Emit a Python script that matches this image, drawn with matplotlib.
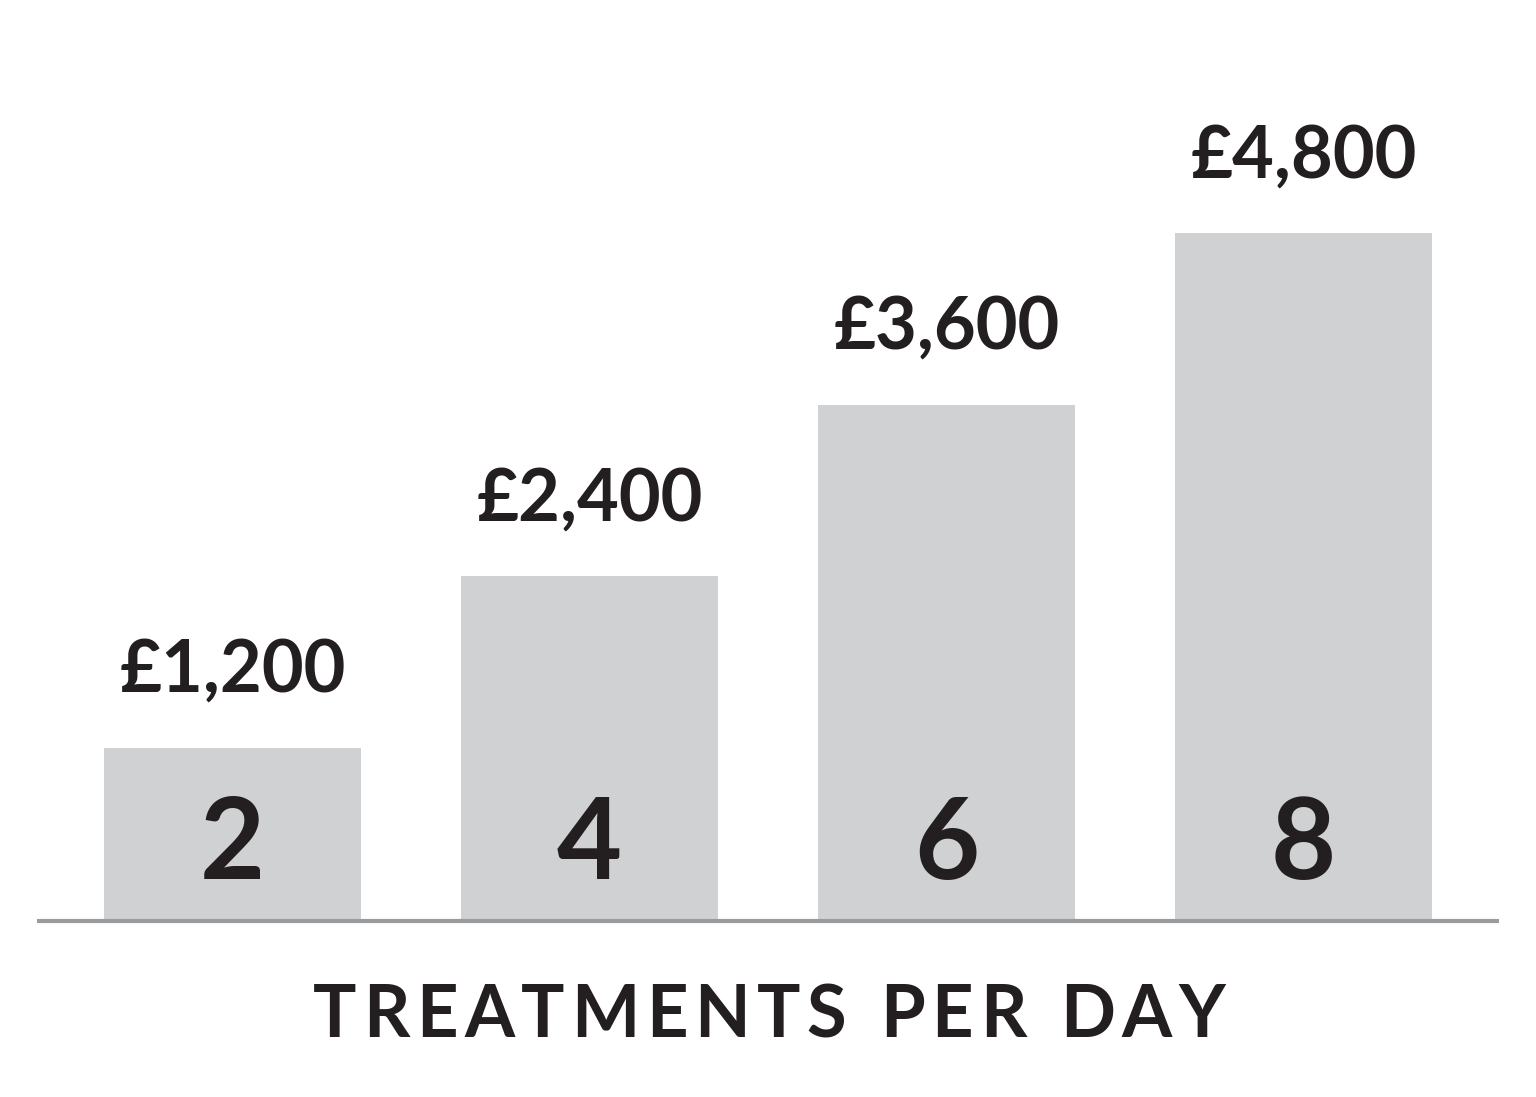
import matplotlib
matplotlib.use("Agg")
import matplotlib.pyplot as plt
import matplotlib.transforms as mtransforms
import numpy as np

treatments = ["2", "4", "6", "8"]
revenue = [1200, 2400, 3600, 4800]
value_labels = ["£1,200", "£2,400", "£3,600", "£4,800"]
axis_title = "TREATMENTS PER DAY"

bar_color = "#d0d1d3"
line_color = "#9a9b9d"
text_color = "#231f20"
font = "Lato"

fig = plt.figure(figsize=(15.36, 10.97), dpi=100)
ax = fig.add_axes([37 / 1536, (1097 - 919) / 1097, (1499 - 37) / 1536, 919 / 1097])

x = np.arange(len(treatments))
ax.bar(x, revenue, width=0.72, color=bar_color, zorder=1)
ax.set_xlim(-0.548, 3.548)
ax.set_ylim(0, 919 / (686 / 4800))

# baseline rule sits just under the bars
line_tr = mtransforms.offset_copy(ax.get_yaxis_transform(), fig=fig, y=-2, units="dots")
ax.plot([0, 1], [0, 0], transform=line_tr, color=line_color, lw=3.0,
        clip_on=False, zorder=2, solid_capstyle="butt")

for xi, v, lab, t in zip(x, revenue, value_labels, treatments):
    ax.annotate(lab, (xi, v), xytext=(0, 40), textcoords="offset points",
                ha="center", va="baseline", fontsize=52, fontweight="bold",
                family=font, color=text_color)
    ax.annotate(t, (xi, 0), xytext=(0, 29), textcoords="offset points",
                ha="center", va="baseline", fontsize=81, fontweight="bold",
                family=font, color=text_color)

ax.axis("off")

# axis title with wide letter spacing, placed char by char
fig.canvas.draw()
renderer = fig.canvas.get_renderer()
widths = []
for ch in axis_title:
    t = fig.text(0, 0, ch if ch != " " else "n", fontsize=52, fontweight="bold",
                 family=font)
    w = t.get_window_extent(renderer).width
    if ch == " ":
        w *= 0.5
    widths.append(w)
    t.remove()
target = 1225 - 313
gap = (target - sum(widths)) / (len(axis_title) - 1)
px = 313.0
for ch, w in zip(axis_title, widths):
    fig.text(px / 1536, (1097 - 1037) / 1097, ch, fontsize=52, fontweight="bold",
             family=font, color=text_color, ha="left", va="baseline")
    px += w + gap

fig.savefig("out.png", dpi=100, facecolor="white")
